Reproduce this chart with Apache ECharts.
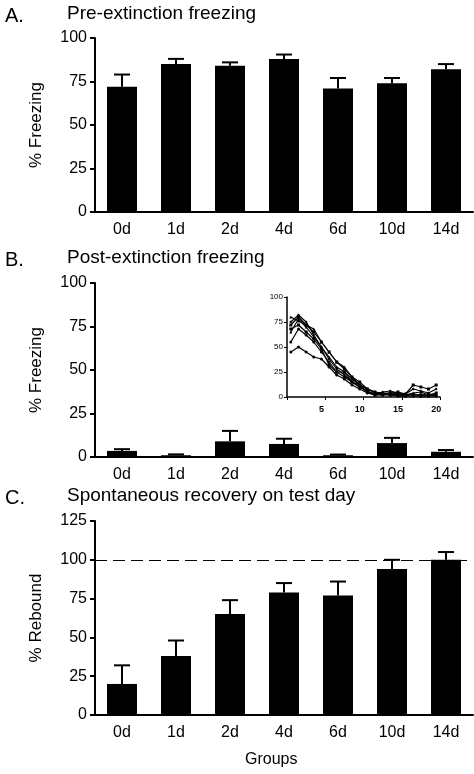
<!DOCTYPE html><html><head><meta charset="utf-8">
<script src="https://cdn.jsdelivr.net/npm/echarts@6/dist/echarts.min.js"></script>
<style>html,body{margin:0;padding:0;background:#fff}#c{width:474px;height:774px}</style></head><body><div id="c"></div>
<script>
const groups=['0d','1d','2d','4d','6d','10d','14d'];
const preMean=[72,85,84,88,71,74,82];
const preErr=[7,3,2,2.5,6,3,3];
const postMean=[3.5,1,9,7.5,1,8,3];
const postErr=[1,0.5,6,3,0.4,3,1];
const recMean=[20,38,65,79,77,94,100];
const recErr=[12,10,9,6,9,6,5];
const recSig=[1,1,1,1,1,0,0];
const insetX=[1,2,3,4,5,6,7,8,9,10,11,12,13,14,15,16,17,18,19,20];
const insetSeries=[
[72,80,72,65,55,45,35,28,20,15,8,5,3,4,5,3,12,10,8,12],
[65,78,70,60,50,40,30,25,18,12,8,4,3,3,3,2,4,5,2,3],
[55,68,62,55,45,35,25,20,15,10,5,3,2,3,2,1,3,2,3,2],
[75,82,75,62,50,38,28,22,15,10,6,3,5,6,4,3,8,6,4,8],
[68,72,65,58,48,32,25,25,15,12,5,2,3,2,2,2,2,2,2,4],
[80,76,72,68,55,45,35,30,20,12,8,5,4,4,3,2,3,1,1,2],
[45,50,45,40,38,30,22,18,12,8,4,2,2,2,1,1,1,1,1,1]];
const F='Liberation Sans, Arial, sans-serif';
const ch=echarts.init(document.getElementById('c'));
const grids=[{left:95,top:38,width:378,height:174},{left:95,top:283,width:378,height:174},{left:95,top:521,width:378,height:194},{left:287,top:297,width:153,height:100}];
const ax={axisLine:{show:true,lineStyle:{color:'#000',width:2}},axisTick:{show:true,lineStyle:{color:'#000',width:2},length:5},axisLabel:{color:'#000',fontFamily:F,fontSize:16},splitLine:{show:false}};
function xa(i){return Object.assign({type:'category',gridIndex:i,data:groups,axisTick:{show:false}},{axisLine:ax.axisLine,axisLabel:Object.assign({},ax.axisLabel,{margin:10})});}
function ya(i,max,iv,name){return Object.assign({type:'value',gridIndex:i,min:0,max:max,interval:iv,name:name,nameLocation:'middle',nameGap:50,nameTextStyle:{color:'#000',fontFamily:F,fontSize:17}},ax);}
function bars(i,d){return {type:'bar',xAxisIndex:i,yAxisIndex:i,data:d,barWidth:30,itemStyle:{color:'#000'},z:2};}
function errs(i,m,e){return {type:'custom',xAxisIndex:i,yAxisIndex:i,data:m.map((v,k)=>[k,v,v+e[k]]),z:3,renderItem:(p,api)=>{const a=api.coord([api.value(0),api.value(1)]),b=api.coord([api.value(0),api.value(2)]);return {type:'group',children:[{type:'line',shape:{x1:a[0],y1:a[1],x2:b[0],y2:b[1]},style:{stroke:'#000',lineWidth:2}},{type:'line',shape:{x1:b[0]-8,y1:b[1],x2:b[0]+8,y2:b[1]},style:{stroke:'#000',lineWidth:2}}]};}};}
const series=[bars(0,preMean),errs(0,preMean,preErr),bars(1,postMean),errs(1,postMean,postErr),bars(2,recMean),errs(2,recMean,recErr),
{type:'scatter',xAxisIndex:2,yAxisIndex:2,symbolSize:0,itemStyle:{opacity:0},data:recMean.map((v,k)=>recSig[k]?[k,v+recErr[k]]:null).filter(x=>x),label:{show:true,formatter:'*',position:'top',distance:-8,color:'#000',textBorderWidth:0,fontSize:30,fontWeight:'bold',fontFamily:F},z:6},
{type:'line',xAxisIndex:2,yAxisIndex:2,data:[],markLine:{symbol:'none',silent:true,label:{show:false},lineStyle:{color:'#000',type:[12,6],width:1},data:[{yAxis:100}]}}];
insetSeries.forEach((s,k)=>series.push({type:'line',xAxisIndex:3,yAxisIndex:3,data:s.map((v,j)=>[insetX[j],v]),symbol:['rect','triangle','circle','diamond','rect','triangle','circle'][k],symbolSize:3,itemStyle:{color:'#000'},lineStyle:{color:'#000',width:1.2},z:5}));
ch.setOption({animation:false,grid:grids,
xAxis:[xa(0),xa(1),xa(2),{type:'value',gridIndex:3,min:0.5,max:20.5,interval:5,axisLine:{lineStyle:{color:'#000',width:1.5}},axisTick:{show:true,length:3,lineStyle:{color:'#000'}},axisLabel:{color:'#000',fontFamily:F,fontSize:9,fontWeight:'bold',customValues:[5,10,15,20]},splitLine:{show:false}}],
yAxis:[ya(0,100,25,'% Freezing'),ya(1,100,25,'% Freezing'),ya(2,125,25,'% Rebound'),{type:'value',gridIndex:3,min:0,max:100,interval:25,axisLine:{show:true,lineStyle:{color:'#000',width:1.5}},axisTick:{show:true,length:3,lineStyle:{color:'#000'}},axisLabel:{color:'#000',fontFamily:F,fontSize:8,margin:4},splitLine:{show:false}}],
series:series,
graphic:[
{type:'text',left:5,top:6,style:{text:'A.',font:'20px '+F,fill:'#000'}},
{type:'text',left:67,top:4,style:{text:'Pre-extinction freezing',font:'19px '+F,fill:'#000'}},
{type:'text',left:5,top:250,style:{text:'B.',font:'20px '+F,fill:'#000'}},
{type:'text',left:67,top:248,style:{text:'Post-extinction freezing',font:'19px '+F,fill:'#000'}},
{type:'text',left:5,top:488,style:{text:'C.',font:'20px '+F,fill:'#000'}},
{type:'text',left:67,top:486,style:{text:'Spontaneous recovery on test day',font:'19px '+F,fill:'#000'}},
{type:'text',left:245,top:752,style:{text:'Groups',font:'16px '+F,fill:'#000'}}]});
</script></body></html>
